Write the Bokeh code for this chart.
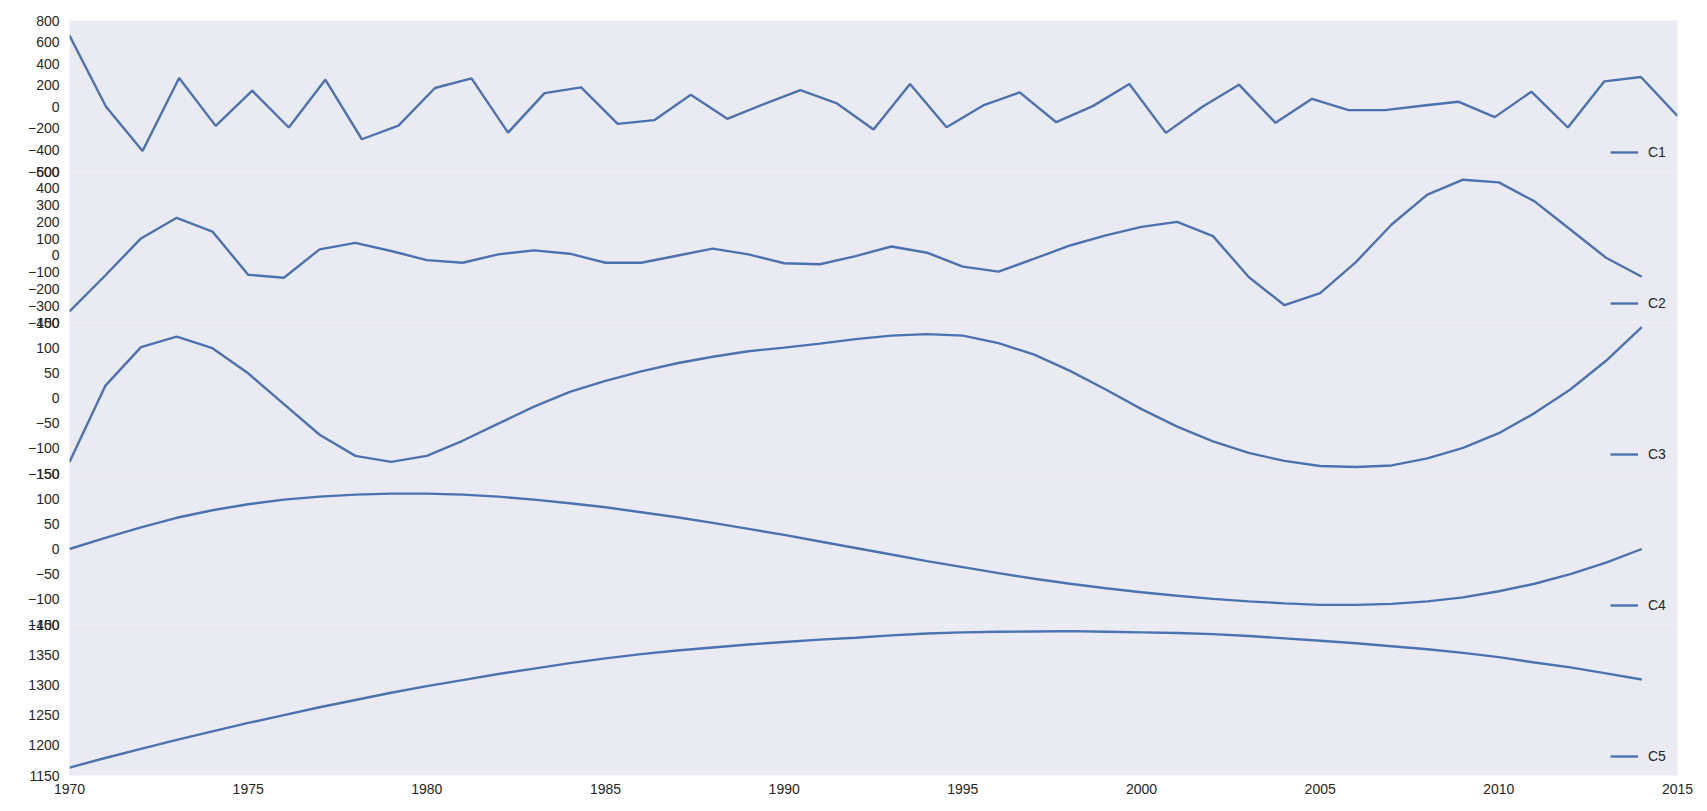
import numpy as np
from bokeh.plotting import figure
from bokeh.layouts import column
from bokeh.models import Range1d, FixedTicker, CustomJSTickFormatter
from bokeh.embed import file_html
from bokeh.resources import INLINE

# ---------------- data ----------------
years = list(range(1970, 2015))

c1 = [660, 0, -409, 267, -177, 149, -192, 251, -301, -174,
      174, 264, -239, 127, 180, -158, -124, 112, -112, 25,
      155, 31, -211, 211, -189, 12, 133, -143, 6, 211,
      -242, 0, 205, -149, 74, -31, -31, 9, 47, -96,
      140, -192, 236, 276, -84]
c1_years = list(np.linspace(1970, 2015, len(c1)))

c2 = [-334, -120, 101, 224, 142, -115, -133, 36, 75, 26,
      -28, -44, 6, 30, 10, -44, -44, -2, 40, 6,
      -47, -53, -4, 53, 16, -67, -97, -20, 59, 119,
      170, 200, 115, -129, -297, -225, -40, 184, 362, 451,
      435, 322, 154, -14, -127]

c3 = [-127, 24, 101, 122, 99, 49, -12, -73, -115, -127,
      -115, -85, -51, -17, 12, 34, 53, 69, 82, 93,
      100, 108, 117, 124, 127, 124, 109, 86, 54, 17,
      -22, -57, -86, -109, -125, -135, -137, -134, -120, -99,
      -70, -30, 17, 74, 141]

c4 = [0, 22, 43, 62, 77, 89, 98, 104, 108, 110,
      110, 108, 104, 98, 91, 83, 73, 63, 52, 40,
      28, 15, 2, -11, -24, -36, -48, -59, -69, -78,
      -86, -93, -99, -104, -108, -111, -111, -109, -104, -96,
      -84, -69, -50, -27, 0]

c5 = [1163, 1179, 1194, 1209, 1223, 1237, 1250, 1263, 1275, 1287,
      1298, 1308, 1318, 1327, 1336, 1344, 1351, 1357, 1362, 1367,
      1371, 1375, 1378, 1382, 1385, 1387, 1388, 1388.5, 1389, 1388,
      1387, 1386, 1384, 1381, 1377, 1373, 1369, 1364, 1359, 1353,
      1346, 1337, 1329, 1319, 1309]

names = ["C1", "C2", "C3", "C4", "C5"]
series_x = [c1_years, years, years, years, years]
series_y = [c1, c2, c3, c4, c5]
y_limits = [(-600, 800), (-400, 500), (-150, 150), (-150, 150), (1150, 1400)]
y_steps = [200, 100, 50, 50, 50]
x_ticks = list(range(1970, 2016, 5))

# ---------------- style ----------------
LINE = "#4C72B0"
BG = "#EAEAF2"
TXT = "#262626"
FONT = "Liberation Sans"
FS = "14px"
OVER = 20  # px of overlap between consecutive figures

fmt_code = "return tick < 0 ? '\\u2212' + String(-tick) : String(tick);"

figs = []
n = len(names)
for i in range(n):
    lo, hi = y_limits[i]
    top = 20 if i == 0 else OVER // 2
    bottom = 30 if i == n - 1 else OVER // 2
    p = figure(frame_width=1608, frame_height=151,
               x_range=Range1d(1970, 2015), y_range=Range1d(lo, hi),
               output_backend="svg", toolbar_location=None,
               min_border_left=69, min_border_right=22,
               min_border_top=top, min_border_bottom=bottom,
               margin=(0, 0, 0, 0) if i == 0 else (-OVER, 0, 0, 0))
    p.background_fill_color = BG
    p.border_fill_color = None
    p.border_fill_alpha = 0
    p.outline_line_color = None
    p.grid.visible = False

    p.line(series_x[i], series_y[i], line_color=LINE, line_width=2.4,
           legend_label=names[i])

    p.yaxis.ticker = FixedTicker(ticks=list(range(lo, hi + 1, y_steps[i])))
    p.yaxis.formatter = CustomJSTickFormatter(code=fmt_code)
    p.yaxis.axis_line_color = None
    p.yaxis.major_tick_line_color = None
    p.yaxis.minor_tick_line_color = None
    p.yaxis.major_tick_in = 0
    p.yaxis.major_tick_out = 0
    p.yaxis.major_label_standoff = 10
    p.yaxis.major_label_text_font = FONT
    p.yaxis.major_label_text_font_size = FS
    p.yaxis.major_label_text_color = TXT

    if i == n - 1:
        p.xaxis.ticker = FixedTicker(ticks=x_ticks)
        p.xaxis.formatter = CustomJSTickFormatter(code=fmt_code)
        p.xaxis.axis_line_color = None
        p.xaxis.major_tick_line_color = None
        p.xaxis.minor_tick_line_color = None
        p.xaxis.major_tick_in = 0
        p.xaxis.major_tick_out = 0
        p.xaxis.major_label_standoff = 8
        p.xaxis.major_label_text_font = FONT
        p.xaxis.major_label_text_font_size = FS
        p.xaxis.major_label_text_color = TXT
    else:
        p.xaxis.visible = False

    lg = p.legend[0]
    lg.location = "bottom_right"
    lg.background_fill_alpha = 0
    lg.border_line_alpha = 0
    lg.label_text_font = FONT
    lg.label_text_font_size = FS
    lg.label_text_color = TXT
    lg.glyph_width = 28
    lg.label_standoff = 10
    lg.margin = 3
    lg.padding = 6
    figs.append(p)

layout = column(*figs, spacing=0)

open("out.html", "w").write(file_html(layout, INLINE))
